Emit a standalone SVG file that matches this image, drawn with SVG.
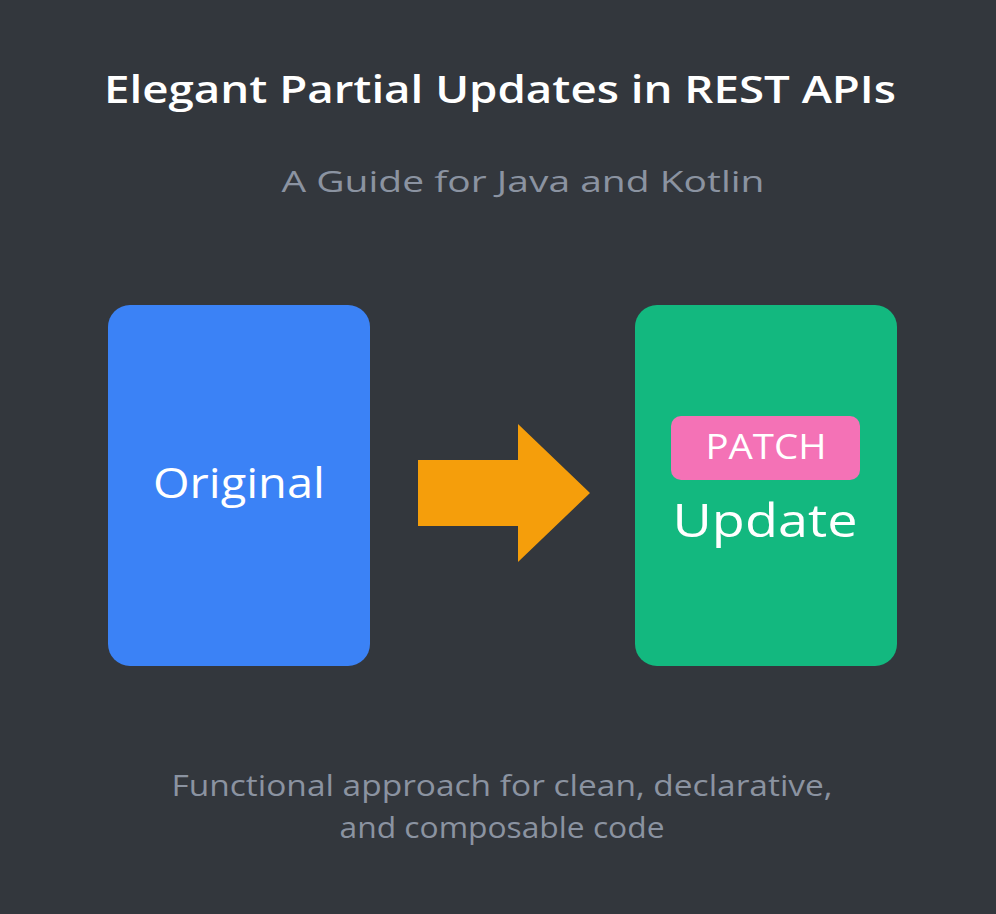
<svg xmlns="http://www.w3.org/2000/svg" width="996" height="914" viewBox="0 0 996 914">
<style>
text{font-family:"Open Sans","Liberation Sans",sans-serif;text-anchor:middle}
.w{fill:#ffffff}
.g{fill:#8b93a1}
</style>
<rect width="996" height="914" fill="#33373d"/>
<text class="w" x="500" y="103" font-size="38" font-weight="600" textLength="792" lengthAdjust="spacingAndGlyphs">Elegant Partial Updates in REST APIs</text>
<text class="g" x="523" y="192" font-size="29" textLength="483" lengthAdjust="spacingAndGlyphs">A Guide for Java and Kotlin</text>
<g id="original">
<rect x="108" y="305" width="262" height="361" rx="22" fill="#3b82f6"/>
<text class="w" x="239" y="498" font-size="42" textLength="172" lengthAdjust="spacingAndGlyphs">Original</text>
</g>
<g id="connectors">
<polygon points="418,460 518,460 518,424 590,493 518,562 518,526 418,526" fill="#f59e0b"/>
</g>
<g id="update">
<rect x="635" y="305" width="262" height="361" rx="22" fill="#13b87f"/>
<rect x="671" y="416" width="189" height="64" rx="10" fill="#f472b6"/>
<text class="w" x="766" y="459" font-size="34" textLength="121" lengthAdjust="spacingAndGlyphs">PATCH</text>
<text class="w" x="765" y="537" font-size="46" textLength="185" lengthAdjust="spacingAndGlyphs">Update</text>
</g>
<text class="g" x="502" y="796" font-size="29" textLength="661" lengthAdjust="spacingAndGlyphs">Functional approach for clean, declarative,</text>
<text class="g" x="502" y="838" font-size="29" textLength="325" lengthAdjust="spacingAndGlyphs">and composable code</text>
</svg>
